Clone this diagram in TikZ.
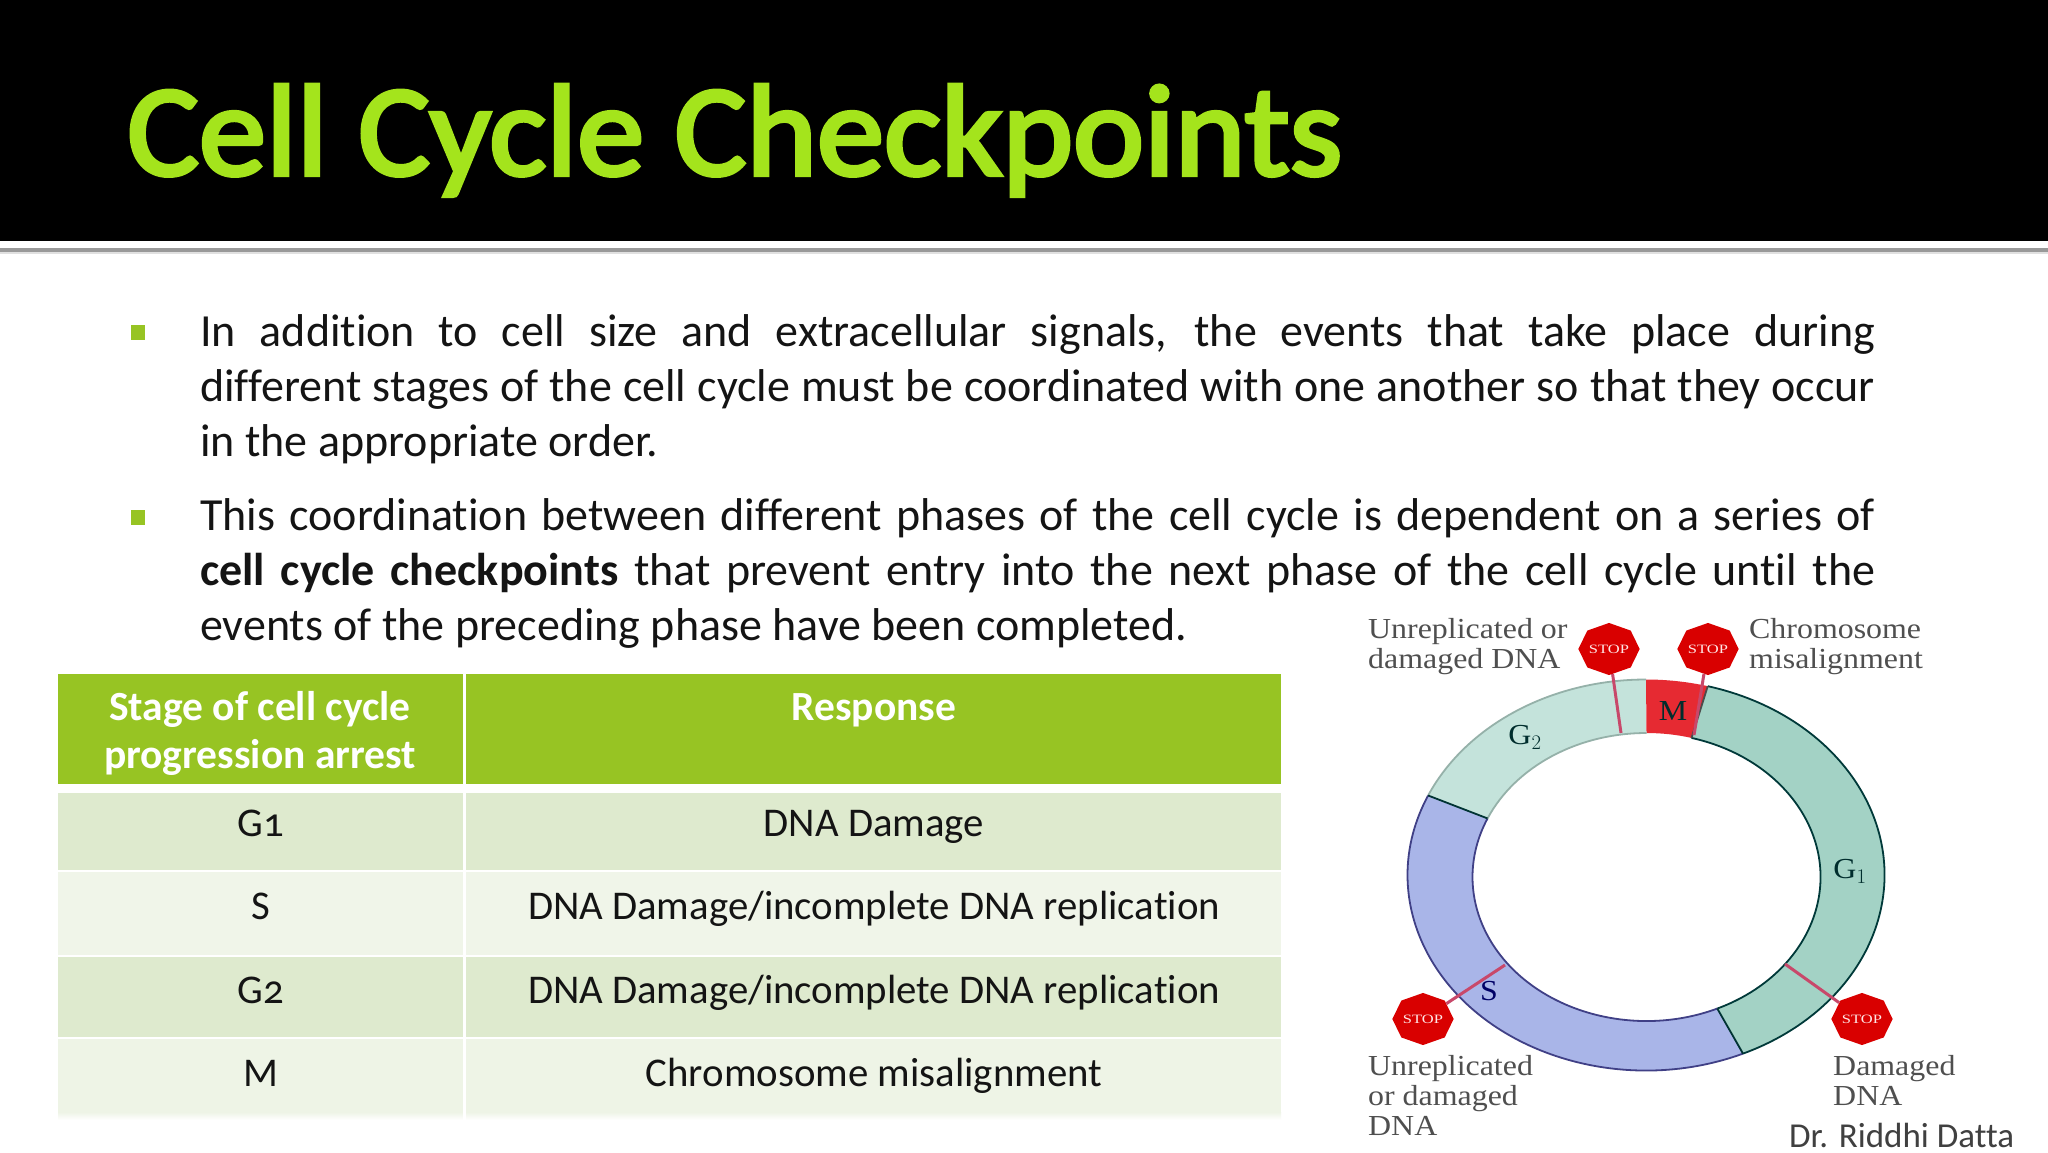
\documentclass[tikz,border=0pt]{standalone}
\usepackage{fontspec}
\setmainfont[Ligatures=NoCommon]{Carlito}
\newfontfamily\lblfont[FakeStretch=1.1]{Liberation Serif}
\newfontfamily\titlefont[FakeBold=3.2,FakeStretch=1.036,Ligatures=NoCommon]{Carlito}
\usetikzlibrary{calc,shapes.geometric}
\definecolor{lime}{HTML}{A4E41C}
\definecolor{hdr}{HTML}{97C423}
\definecolor{rowa}{HTML}{DEEACE}
\definecolor{rowb}{HTML}{F0F5E9}
\definecolor{gone}{HTML}{A3D2C5}
\definecolor{gtwo}{HTML}{C4E3DB}
\definecolor{sph}{HTML}{A9B5E8}
\definecolor{mph}{HTML}{E62A32}
\definecolor{pin}{HTML}{C8486A}
\definecolor{lblc}{HTML}{4F4F4F}
\tikzset{
  txt/.style={anchor=base west,inner sep=0pt,font=\fontsize{46}{55}\selectfont,text=black!92,align=left},
  cellt/.style={anchor=base,inner sep=0pt,font=\fontsize{40.8}{48}\selectfont,text=black!92},
  hdrt/.style={anchor=base,inner sep=0pt,font=\fontsize{41.5}{48}\selectfont\bfseries,text=white},
  lbl/.style={anchor=base west,inner sep=0pt,font=\fontsize{29}{30}\selectfont\lblfont,text=lblc,align=left},
  ringl/.style={anchor=center,inner sep=0pt,font=\fontsize{29}{30}\selectfont\lblfont,text=black!65!teal},
  stopsign/.style={regular polygon,regular polygon sides=8,shape border rotate=22.5,fill=red!85!black,minimum size=54pt,inner sep=0pt,yscale=.85,transform shape,text=white!90!red,font=\fontsize{15}{15}\selectfont\lblfont},
  pinline/.style={draw=pin,line width=3pt},
  bullet/.style={fill=hdr}
}
\newcommand{\jl}[1]{\hbox to 1675pt{#1}}
\newcommand{\seg}[3]{\path[fill=#3] (#1:238.5 and 195.5) arc[start angle=#1,end angle=#2,x radius=238.5,y radius=195.5] -- ($(0.5,-2)+(#2:174 and 144)$) arc[start angle=#2,end angle=#1,x radius=174,y radius=144] -- cycle;}
\newcommand{\rim}[3]{\draw[#3,line width=1.8pt] (#1:238.5 and 195.5) arc[start angle=#1,end angle=#2,x radius=238.5,y radius=195.5];
 \draw[#3,line width=1.8pt] ($(0.5,-2)+(#1:174 and 144)$) arc[start angle=#1,end angle=#2,x radius=174,y radius=144];}
\begin{document}
\begin{tikzpicture}[x=1pt,y=-1pt]
\useasboundingbox (0,0) rectangle (2048,1152);
\fill[white] (0,0) rectangle (2048,1152);
% header band
\fill[black] (0,0) rectangle (2048,241);
\fill[black!40] (0,248) rectangle (2048,252);
\fill[black!12] (0,252) rectangle (2048,254);
\node[anchor=base west,inner sep=0pt,font=\fontsize{130}{130}\selectfont\titlefont,text=lime] (title) at (127,175) {Cell Cycle Checkpoints};
% bullets
\fill[bullet] (131,325) rectangle (145,340);
\fill[bullet] (131,510) rectangle (145,525);
% paragraphs
\node[txt] (p1) at (200,456) {\jl{In addition to cell size and extracellular signals, the events that take place during}\\[0pt]\jl{different stages of the cell cycle must be coordinated with one another so that they occur}\\in the appropriate order.};
\node[txt] (p2) at (200,640) {\jl{This coordination between different phases of the cell cycle is dependent on a series of}\\[0pt]\jl{\textbf{cell cycle checkpoints} that prevent entry into the next phase of the cell cycle until the}\\events of the preceding phase have been completed.};
% table
\fill[hdr] (58,674) rectangle (1281,784);
\fill[rowa] (58,793) rectangle (1281,870);
\fill[rowb] (58,872) rectangle (1281,955);
\fill[rowa] (58,957) rectangle (1281,1037);
\fill[rowb!90!rowa] (58,1039) rectangle (1281,1112);
\shade[top color=rowb!90!rowa,bottom color=white] (58,1112) rectangle (1281,1120);
\fill[white] (463,674) rectangle (466,1120);
\node[hdrt] (h1a) at (260,720) {Stage of cell cycle};
\node[hdrt] (h1b) at (260,768) {progression arrest};
\node[hdrt] (h2) at (874,720) {Response};
\node[cellt] (c1a) at (261,836) {\addfontfeatures{Numbers=OldStyle}G1};
\node[cellt] (c1b) at (874,836) {DNA Damage};
\node[cellt] (c2a) at (261,919) {S};
\node[cellt] (c2b) at (874,919) {DNA Damage/incomplete DNA replication};
\node[cellt] (c3a) at (261,1003) {\addfontfeatures{Numbers=OldStyle}G2};
\node[cellt] (c3b) at (874,1003) {DNA Damage/incomplete DNA replication};
\node[cellt] (c4a) at (261,1086) {M};
\node[cellt] (c4b) at (874,1086) {Chromosome misalignment};
% ring
\begin{scope}[shift={(1646,875)},y=1pt]
\seg{75}{-66}{gone}
\seg{-66}{-204}{sph}
\seg{156}{90}{gtwo}
\seg{90}{75}{mph}
\rim{75}{-66}{draw=black!55!teal}
\rim{-66}{-204}{draw=black!45!blue!50!gray}
\rim{156}{90}{draw=gone!60!gray}
\draw[black!60!teal,line width=1.8pt] (156:238.5 and 195.5) -- ($(0.5,-2)+(156:174 and 144)$);
\draw[black!60!teal,line width=1.8pt] (-66:238.5 and 195.5) -- ($(0.5,-2)+(-66:174 and 144)$);
\draw[black!70,line width=1.8pt] (75:238.5 and 195.5) -- ($(0.5,-2)+(75:174 and 144)$);
\end{scope}
% checkpoint signs and pins
\coordinate (e2) at (1621,733);
\coordinate (em) at (1694,735);
\coordinate (es) at (1505,965);
\coordinate (e1) at (1785,964);
\node[stopsign] (s2) at (1609,649) {STOP};
\node[stopsign] (sm) at (1708,649) {STOP};
\node[stopsign] (ss) at (1423,1019) {STOP};
\node[stopsign] (s1) at (1862,1019) {STOP};
\draw[pinline] (s2) -- (e2);
\draw[pinline] (sm) -- (em);
\draw[pinline] (ss) -- (es);
\draw[pinline] (s1) -- (e1);
\node[ringl] (lm) at (1673,711) {M};
\node[ringl] (lg2) at (1525,737) {G$_2$};
\node[ringl] (lg1) at (1850,871) {G$_1$};
\node[ringl,text=blue!40!black] (ls) at (1489,991) {S};
% labels
\node[lbl] (a) at (1368,668) {Unreplicated or\\damaged DNA};
\node[lbl] (b) at (1749,668) {Chromosome\\misalignment};
\node[lbl] (c) at (1368,1135) {Unreplicated\\or damaged\\DNA};
\node[lbl] (d) at (1833,1105) {Damaged\\DNA};
\node[anchor=base west,inner sep=0pt,font=\fontsize{35}{35}\selectfont,text=black!75] (auth) at (1789,1147) {Dr. Riddhi Datta};
\end{tikzpicture}
\end{document}
